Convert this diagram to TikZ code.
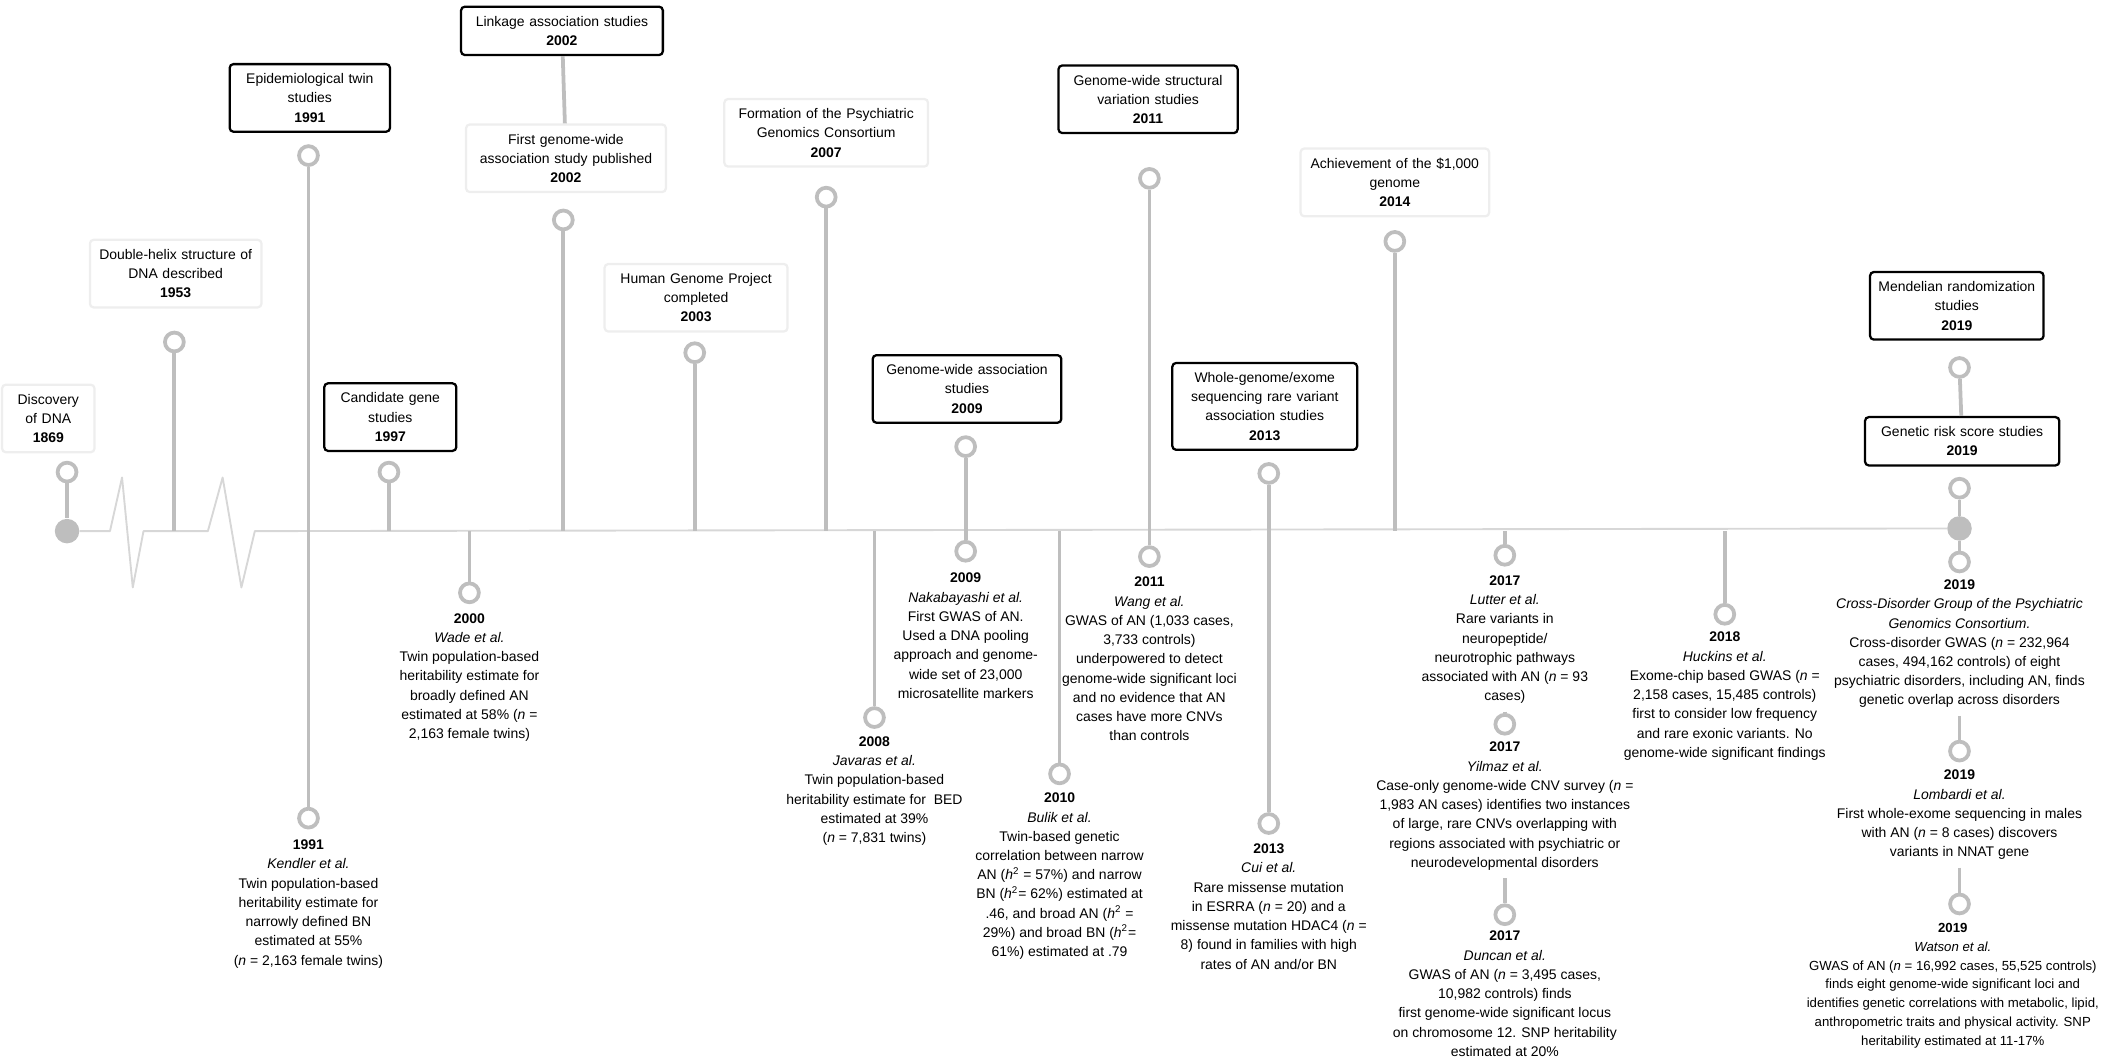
\documentclass[tikz,border=0pt]{standalone}
\usepackage{fontspec}
\setmainfont{Liberation Sans}
\usetikzlibrary{positioning}
\definecolor{stemgray}{RGB}{190,190,190}
\definecolor{basegray}{RGB}{215,215,215}
\definecolor{boxgray}{RGB}{238,238,238}
\tikzset{
  evt/.style={draw=black, line width=1.2pt, rounded corners=2pt, align=center, inner xsep=4pt, inner ysep=5pt, fill=white},
  evtl/.style={draw=boxgray, line width=1.2pt, rounded corners=2pt, align=center, inner xsep=4pt, inner ysep=5pt, fill=white},
  ring/.style={circle, draw=stemgray, line width=2pt, minimum size=10pt, inner sep=0pt, fill=white},
  dot/.style={circle, fill=stemgray, minimum size=13pt, inner sep=0pt},
  stem/.style={draw=stemgray, line width=2pt},
  base/.style={draw=basegray, line width=1pt},
  txt/.style={align=center, anchor=north, inner sep=0pt}
}
\begin{document}
\begin{tikzpicture}[x=0.025cm, y=-0.025cm, font=\fontsize{7.4}{10.2}\selectfont]
	\useasboundingbox (0,0) rectangle (1568,791);
	% baseline
	\node[dot] (start) at (50,396) {};
	\node[dot] (stop) at (1461,394) {};
	\draw[base, line join=round] (start) -- (82,396) -- (91,356) -- (99,438) -- (107,396) -- (155,396)
		-- (166,356) -- (180,438) -- (190,396) -- (stop);

	% events above the line
	\node[evtl, text width=41pt] (dna) at (36,312) {Discovery\\of DNA\\\textbf{1869}};
	\node[ring] (r1869) at (50,352) {};
	\draw[stem] (r1869) -- (start);

	\node[evtl, text width=83pt] (helix) at (131,204) {Double-helix structure of\\DNA described\\\textbf{1953}};
	\node[ring] (r1953) at (130,255) {};
	\draw[stem] (r1953) -- (130,396);

	\node[evt, text width=77pt] (twin) at (231,73) {Epidemiological twin\\studies\\\textbf{1991}};
	\node[ring] (r1991a) at (230,116) {};
	\node[ring] (r1991b) at (230,610) {};
	\draw[stem] (r1991a) -- (r1991b);

	\node[evt, text width=62pt] (cand) at (291,311) {Candidate gene\\studies\\\textbf{1997}};
	\node[ring] (r1997) at (290,352) {};
	\draw[stem] (r1997) -- (290,396);

	\node[evt, text width=99pt] (link) at (419,23) {Linkage association studies\\\textbf{2002}};
	\node[evtl, text width=98pt] (fgwas) at (422,118) {First genome-wide\\association study published\\\textbf{2002}};
	\draw[stem] (link) -- (fgwas);
	\node[ring] (r2002) at (420,164) {};
	\draw[stem] (r2002) -- (420,396);

	\node[evtl, text width=89pt] (hgp) at (519,222) {Human Genome Project\\completed\\\textbf{2003}};
	\node[ring] (r2003) at (518,263) {};
	\draw[stem] (r2003) -- (518,396);

	\node[evtl, text width=100pt] (pgc) at (616,99) {Formation of the Psychiatric\\Genomics Consortium\\\textbf{2007}};
	\node[ring] (r2007) at (616,147) {};
	\draw[stem] (r2007) -- (616,396);

	\node[evt, text width=92pt] (gwas) at (721,290) {Genome-wide association\\studies\\\textbf{2009}};
	\node[ring] (r2009a) at (720,333) {};
	\node[ring] (r2009b) at (720,411) {};
	\draw[stem] (r2009a) -- (r2009b);

	\node[evt, text width=87pt] (struct) at (856,74) {Genome-wide structural\\variation studies\\\textbf{2011}};
	\node[ring] (r2011a) at (857,133) {};
	\node[ring] (r2011b) at (857,415) {};
	\draw[stem] (r2011a) -- (r2011b);

	\node[evt, text width=90pt] (wes) at (943,303) {Whole-genome/exome\\sequencing rare variant\\association studies\\\textbf{2013}};
	\node[ring] (r2013a) at (946,353) {};
	\node[ring] (r2013b) at (946,614) {};
	\draw[stem] (r2013a) -- (r2013b);

	\node[evtl, text width=92pt] (k1000) at (1040,136) {Achievement of the \$1,000\\genome\\\textbf{2014}};
	\node[ring] (r2014) at (1040,180) {};
	\draw[stem] (r2014) -- (1040,396);

	\node[evt, text width=84pt] (mend) at (1459,228) {Mendelian randomization\\studies\\\textbf{2019}};
	\node[ring] (r2019m) at (1461,274) {};
	\node[evt, text width=95pt] (grs) at (1463,329) {Genetic risk score studies\\\textbf{2019}};
	\draw[stem] (r2019m) -- (grs);
	\node[ring] (r2019g) at (1461,364) {};
	\draw[stem] (r2019g) -- (stop);

	% events below the line
	\node[ring] (r2000) at (350,442) {};
	\draw[stem] (350,396) -- (r2000);
	\node[txt] (wade) at (350,457) {\textbf{2000}\\\textit{Wade et al.}\\Twin population-based\\heritability estimate for\\broadly defined AN\\estimated at 58\% (\textit{n} =\\2,163 female twins)};

	\node[txt] (kendler) at (230,626) {\textbf{1991}\\\textit{Kendler et al.}\\Twin population-based\\heritability estimate for\\narrowly defined BN\\estimated at 55\%\\(\textit{n} = 2,163 female twins)};

	\node[ring] (r2008) at (652,535) {};
	\draw[stem] (652,396) -- (r2008);
	\node[txt] (javaras) at (652,549) {\textbf{2008}\\\textit{Javaras et al.}\\Twin population-based\\heritability estimate for~~BED\\estimated at 39\%\\(\textit{n} = 7,831 twins)};

	\node[txt] (nakab) at (720,427) {\textbf{2009}\\\textit{Nakabayashi et al.}\\First GWAS of AN.\\Used a DNA pooling\\approach and genome-\\wide set of 23,000\\microsatellite markers};

	\node[ring] (r2010) at (790,577) {};
	\draw[stem] (790,396) -- (r2010);
	\node[txt] (bulik) at (790,591) {\textbf{2010}\\\textit{Bulik et al.}\\Twin-based genetic\\correlation between narrow\\AN (\textit{h}\textsuperscript{2} = 57\%) and narrow\\BN (\textit{h}\textsuperscript{2}= 62\%) estimated at\\.46, and broad AN (\textit{h}\textsuperscript{2} =\\29\%) and broad BN (\textit{h}\textsuperscript{2}=\\61\%) estimated at .79};

	\node[txt] (wang) at (857,430) {\textbf{2011}\\\textit{Wang et al.}\\GWAS of AN (1,033 cases,\\3,733 controls)\\underpowered to detect\\genome-wide significant loci\\and no evidence that AN\\cases have more CNVs\\than controls};

	\node[txt] (cui) at (946,629) {\textbf{2013}\\\textit{Cui et al.}\\Rare missense mutation\\in ESRRA (\textit{n} = 20) and a\\missense mutation HDAC4 (\textit{n} =\\8) found in families with high\\rates of AN and/or BN};

	\node[ring] (r2017a) at (1122,414) {};
	\draw[stem] (1122,396) -- (r2017a);
	\node[txt] (lutter) at (1122,429) {\textbf{2017}\\\textit{Lutter et al.}\\Rare variants in\\neuropeptide/\\neurotrophic pathways\\associated with AN (\textit{n} = 93\\cases)};
	\node[ring] (r2017b) at (1122,540) {};
	\draw[stem] ([yshift=-4pt]lutter.south) -- (r2017b);
	\node[txt] (yilmaz) at (1122,553) {\textbf{2017}\\\textit{Yilmaz et al.}\\Case-only genome-wide CNV survey (\textit{n} =\\1,983 AN cases) identifies two instances\\of large, rare CNVs overlapping with\\regions associated with psychiatric or\\neurodevelopmental disorders};
	\node[ring] (r2017c) at (1122,682) {};
	\draw[stem] ([yshift=-4pt]yilmaz.south) -- (r2017c);
	\node[txt] (duncan) at (1122,694) {\textbf{2017}\\\textit{Duncan et al.}\\GWAS of AN (\textit{n} = 3,495 cases,\\10,982 controls) finds\\first genome-wide significant locus\\on chromosome 12. SNP heritability\\estimated at 20\%};

	\node[ring] (r2018) at (1286,458) {};
	\draw[stem] (1286,396) -- (r2018);
	\node[txt] (huckins) at (1286,471) {\textbf{2018}\\\textit{Huckins et al.}\\Exome-chip based GWAS (\textit{n} =\\2,158 cases, 15,485 controls)\\first to consider low frequency\\and rare exonic variants. No\\genome-wide significant findings};

	\node[ring] (r2019a) at (1461,419) {};
	\draw[stem] (stop) -- (r2019a);
	\node[txt] (cross) at (1461,432) {\textbf{2019}\\\textit{Cross-Disorder Group of the Psychiatric}\\\textit{Genomics Consortium.}\\Cross-disorder GWAS (\textit{n} = 232,964\\cases, 494,162 controls) of eight\\psychiatric disorders, including AN, finds\\genetic overlap across disorders};
	\node[ring] (r2019b) at (1461,560) {};
	\draw[stem] ([yshift=-4pt]cross.south) -- (r2019b);
	\node[txt] (lombardi) at (1461,574) {\textbf{2019}\\\textit{Lombardi et al.}\\First whole-exome sequencing in males\\with AN (\textit{n} = 8 cases) discovers\\variants in NNAT gene};
	\node[ring] (r2019c) at (1461,674) {};
	\draw[stem] ([yshift=-4pt]lombardi.south) -- (r2019c);
	\node[txt, font=\fontsize{7}{10}\selectfont] (watson) at (1456,688) {\textbf{2019}\\\textit{Watson et al.}\\GWAS of AN (\textit{n} = 16,992 cases, 55,525 controls)\\finds eight genome-wide significant loci and\\identifies genetic correlations with metabolic, lipid,\\anthropometric traits and physical activity. SNP\\heritability estimated at 11-17\%};
\end{tikzpicture}
\end{document}
